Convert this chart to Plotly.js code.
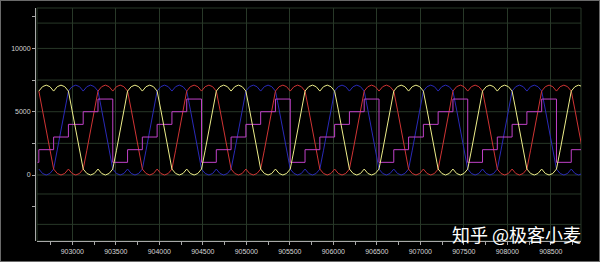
<!DOCTYPE html>
<html>
<head>
<meta charset="utf-8">
<script src="https://cdn.plot.ly/plotly-3.0.1.min.js"></script>
<style>
  html, body { margin: 0; padding: 0; background: #000; }
  #wrap { position: relative; width: 600px; height: 262px; }
  #chart { width: 600px; height: 262px; }
  #frame { position: absolute; left: 0; top: 0; width: 600px; height: 262px; border: 1px solid #6a6a6a; box-sizing: border-box; pointer-events: none; }
</style>
</head>
<body>
<div id="wrap"><div id="chart"></div><div id="frame"></div></div>
<script>
// ---- data ----
const time = [
  902615, 902657.5, 902700, 902742.5, 902785, 902827.5, 902870, 902912.5, 902955, 902997.5,
  903040, 903082.5, 903125, 903167.5, 903210, 903252.5, 903295, 903337.5, 903380, 903422.5,
  903465, 903507.5, 903550, 903592.5, 903635, 903677.5, 903720, 903762.5, 903805, 903847.5,
  903890, 903932.5, 903975, 904017.5, 904060, 904102.5, 904145, 904187.5, 904230, 904272.5,
  904315, 904357.5, 904400, 904442.5, 904485, 904527.5, 904570, 904612.5, 904655, 904697.5,
  904740, 904782.5, 904825, 904867.5, 904910, 904952.5, 904995, 905037.5, 905080, 905122.5,
  905165, 905207.5, 905250, 905292.5, 905335, 905377.5, 905420, 905462.5, 905505, 905547.5,
  905590, 905632.5, 905675, 905717.5, 905760, 905802.5, 905845, 905887.5, 905930, 905972.5,
  906015, 906057.5, 906100, 906142.5, 906185, 906227.5, 906270, 906312.5, 906355, 906397.5,
  906440, 906482.5, 906525, 906567.5, 906610, 906652.5, 906695, 906737.5, 906780, 906822.5,
  906865, 906907.5, 906950, 906992.5, 907035, 907077.5, 907120, 907162.5, 907205, 907247.5,
  907290, 907332.5, 907375, 907417.5, 907460, 907502.5, 907545, 907587.5, 907630, 907672.5,
  907715, 907757.5, 907800, 907842.5, 907885, 907927.5, 907970, 908012.5, 908055, 908097.5,
  908140, 908182.5, 908225, 908267.5, 908310, 908352.5, 908395, 908437.5, 908480, 908522.5,
  908565, 908607.5, 908650, 908692.5, 908735, 908777.5, 908820, 908862.5, 908905
];
const phaseRed = [
  6630, 5140, 3550, 1960, 470, 120, 0, 120, 470, 120, 0, 120, 470, 1960,
  3550, 5140, 6630, 6980, 7100, 6980, 6630, 6980, 7100, 6980, 6630, 5140, 3550, 1960, 470, 120, 0, 120, 470, 120, 0, 120, 470, 1960,
  3550, 5140, 6630, 6980, 7100, 6980, 6630, 6980, 7100, 6980, 6630, 5140, 3550, 1960, 470, 120, 0, 120, 470, 120, 0, 120, 470, 1960,
  3550, 5140, 6630, 6980, 7100, 6980, 6630, 6980, 7100, 6980, 6630, 5140, 3550, 1960, 470, 120, 0, 120, 470, 120, 0, 120, 470, 1960,
  3550, 5140, 6630, 6980, 7100, 6980, 6630, 6980, 7100, 6980, 6630, 5140, 3550, 1960, 470, 120, 0, 120, 470, 120, 0, 120, 470, 1960,
  3550, 5140, 6630, 6980, 7100, 6980, 6630, 6980, 7100, 6980, 6630, 5140, 3550, 1960, 470, 120, 0, 120, 470, 120, 0, 120, 470, 1960,
  3550, 5140, 6630, 6980, 7100, 6980, 6630, 6980, 7100, 6980, 6630, 5140, 3550, 1960, 470
];
const phaseYellow = [
  6630, 6980, 7100, 6980, 6630, 6980, 7100, 6980, 6630, 5140, 3550, 1960, 470, 120, 0, 120, 470, 120, 0, 120, 470, 1960,
  3550, 5140, 6630, 6980, 7100, 6980, 6630, 6980, 7100, 6980, 6630, 5140, 3550, 1960, 470, 120, 0, 120, 470, 120, 0, 120, 470, 1960,
  3550, 5140, 6630, 6980, 7100, 6980, 6630, 6980, 7100, 6980, 6630, 5140, 3550, 1960, 470, 120, 0, 120, 470, 120, 0, 120, 470, 1960,
  3550, 5140, 6630, 6980, 7100, 6980, 6630, 6980, 7100, 6980, 6630, 5140, 3550, 1960, 470, 120, 0, 120, 470, 120, 0, 120, 470, 1960,
  3550, 5140, 6630, 6980, 7100, 6980, 6630, 6980, 7100, 6980, 6630, 5140, 3550, 1960, 470, 120, 0, 120, 470, 120, 0, 120, 470, 1960,
  3550, 5140, 6630, 6980, 7100, 6980, 6630, 6980, 7100, 6980, 6630, 5140, 3550, 1960, 470, 120, 0, 120, 470, 120, 0, 120, 470, 1960,
  3550, 5140, 6630, 6980, 7100, 6980, 6630
];
const phaseBlue = [
  470, 120, 0, 120, 470, 1960,
  3550, 5140, 6630, 6980, 7100, 6980, 6630, 6980, 7100, 6980, 6630, 5140, 3550, 1960, 470, 120, 0, 120, 470, 120, 0, 120, 470, 1960,
  3550, 5140, 6630, 6980, 7100, 6980, 6630, 6980, 7100, 6980, 6630, 5140, 3550, 1960, 470, 120, 0, 120, 470, 120, 0, 120, 470, 1960,
  3550, 5140, 6630, 6980, 7100, 6980, 6630, 6980, 7100, 6980, 6630, 5140, 3550, 1960, 470, 120, 0, 120, 470, 120, 0, 120, 470, 1960,
  3550, 5140, 6630, 6980, 7100, 6980, 6630, 6980, 7100, 6980, 6630, 5140, 3550, 1960, 470, 120, 0, 120, 470, 120, 0, 120, 470, 1960,
  3550, 5140, 6630, 6980, 7100, 6980, 6630, 6980, 7100, 6980, 6630, 5140, 3550, 1960, 470, 120, 0, 120, 470, 120, 0, 120, 470, 1960,
  3550, 5140, 6630, 6980, 7100, 6980, 6630, 6980, 7100, 6980, 6630, 5140, 3550, 1960, 470, 120, 0, 120, 470, 120, 0, 120, 470
];
const sectorTime = [
  902600, 902615, 902785, 902955, 903125, 903295, 903465, 903635, 903805, 903975,
  904145, 904315, 904485, 904655, 904825, 904995, 905165, 905335, 905505, 905675,
  905845, 906015, 906185, 906355, 906525, 906695, 906865, 907035, 907205, 907375,
  907545, 907715, 907885, 908055, 908225, 908395, 908565, 908735, 908905
];
const sectorValue = [
  1000, 2000, 3000, 4000, 5000, 6000, 1000, 2000, 3000, 4000,
  5000, 6000, 1000, 2000, 3000, 4000, 5000, 6000, 1000, 2000,
  3000, 4000, 5000, 6000, 1000, 2000, 3000, 4000, 5000, 6000,
  1000, 2000, 3000, 4000, 5000, 6000, 1000, 2000, 3000
];
const yTickVals = [-2500, 0, 2500, 5000, 7500, 10000, 12500];
const yTickText = ['', '0', '', '5000', '', '10000', ''];
const yGridVals = [12000, 10000, 7500, 5000, 2500, 0, -1500, -3900];
const watermark = '知乎 @极客小麦';

// ---- styling ----
const gridColor = '#283828';
const axisColor = '#a8a8a8';
const labelFont = { family: 'Liberation Sans, Arial, sans-serif', size: 7, color: '#d4d4d4' };
const xStart = 2 / 546;

const traces = [
  { x: time, y: phaseBlue, type: 'scatter', mode: 'lines', line: { color: '#2a2ab8', width: 1 }, hoverinfo: 'skip' },
  { x: time, y: phaseRed, type: 'scatter', mode: 'lines', line: { color: '#d03434', width: 1 }, hoverinfo: 'skip' },
  { x: sectorTime, y: sectorValue, type: 'scatter', mode: 'lines', line: { color: '#c040c8', width: 1, shape: 'hv' }, hoverinfo: 'skip' },
  { x: time, y: phaseYellow, type: 'scatter', mode: 'lines', line: { color: '#eeee8a', width: 1 }, hoverinfo: 'skip' }
];

const shapes = yGridVals.map(v => ({
  type: 'line', xref: 'paper', yref: 'y', x0: xStart, x1: 1, y0: v, y1: v,
  line: { color: gridColor, width: 1 }, layer: 'below'
}));
shapes.push({
  type: 'rect', xref: 'paper', yref: 'paper', x0: xStart, x1: 1, y0: 0, y1: 1,
  line: { color: gridColor, width: 1 }, layer: 'below'
});

const layout = {
  width: 600, height: 262,
  margin: { l: 35, r: 19, t: 8, b: 21, pad: 0 },
  paper_bgcolor: '#000', plot_bgcolor: '#000',
  showlegend: false,
  xaxis: {
    domain: [xStart, 1], range: [902594, 908847], anchor: 'y',
    tick0: 903000, dtick: 500, tickformat: 'd',
    ticks: 'outside', ticklen: 3, tickwidth: 1, tickcolor: axisColor,
    ticklabelstandoff: 1,
    minor: { dtick: 250, tick0: 903000, ticks: 'outside', ticklen: 3, tickcolor: axisColor, showgrid: false },
    showgrid: true, gridcolor: gridColor, gridwidth: 1,
    showline: true, linecolor: axisColor, linewidth: 1, zeroline: false,
    tickfont: labelFont, fixedrange: true
  },
  yaxis: {
    domain: [0, 1], range: [-5214, 13193], anchor: 'free', position: 0,
    tickmode: 'array', tickvals: yTickVals, ticktext: yTickText,
    ticks: 'outside', ticklen: 3, tickwidth: 1, tickcolor: axisColor,
    showgrid: false, showline: true, linecolor: axisColor, linewidth: 1, zeroline: false,
    tickfont: labelFont, fixedrange: true
  },
  shapes: shapes,
  annotations: [{
    text: watermark, xref: 'paper', yref: 'paper',
    x: 1.004, y: 0.03, xanchor: 'right', yanchor: 'middle', showarrow: false,
    font: { family: 'Noto Sans CJK SC, sans-serif', size: 18, color: '#ffffff' }
  }]
};

Plotly.newPlot('chart', traces, layout, { staticPlot: true, displayModeBar: false });
</script>
</body>
</html>
